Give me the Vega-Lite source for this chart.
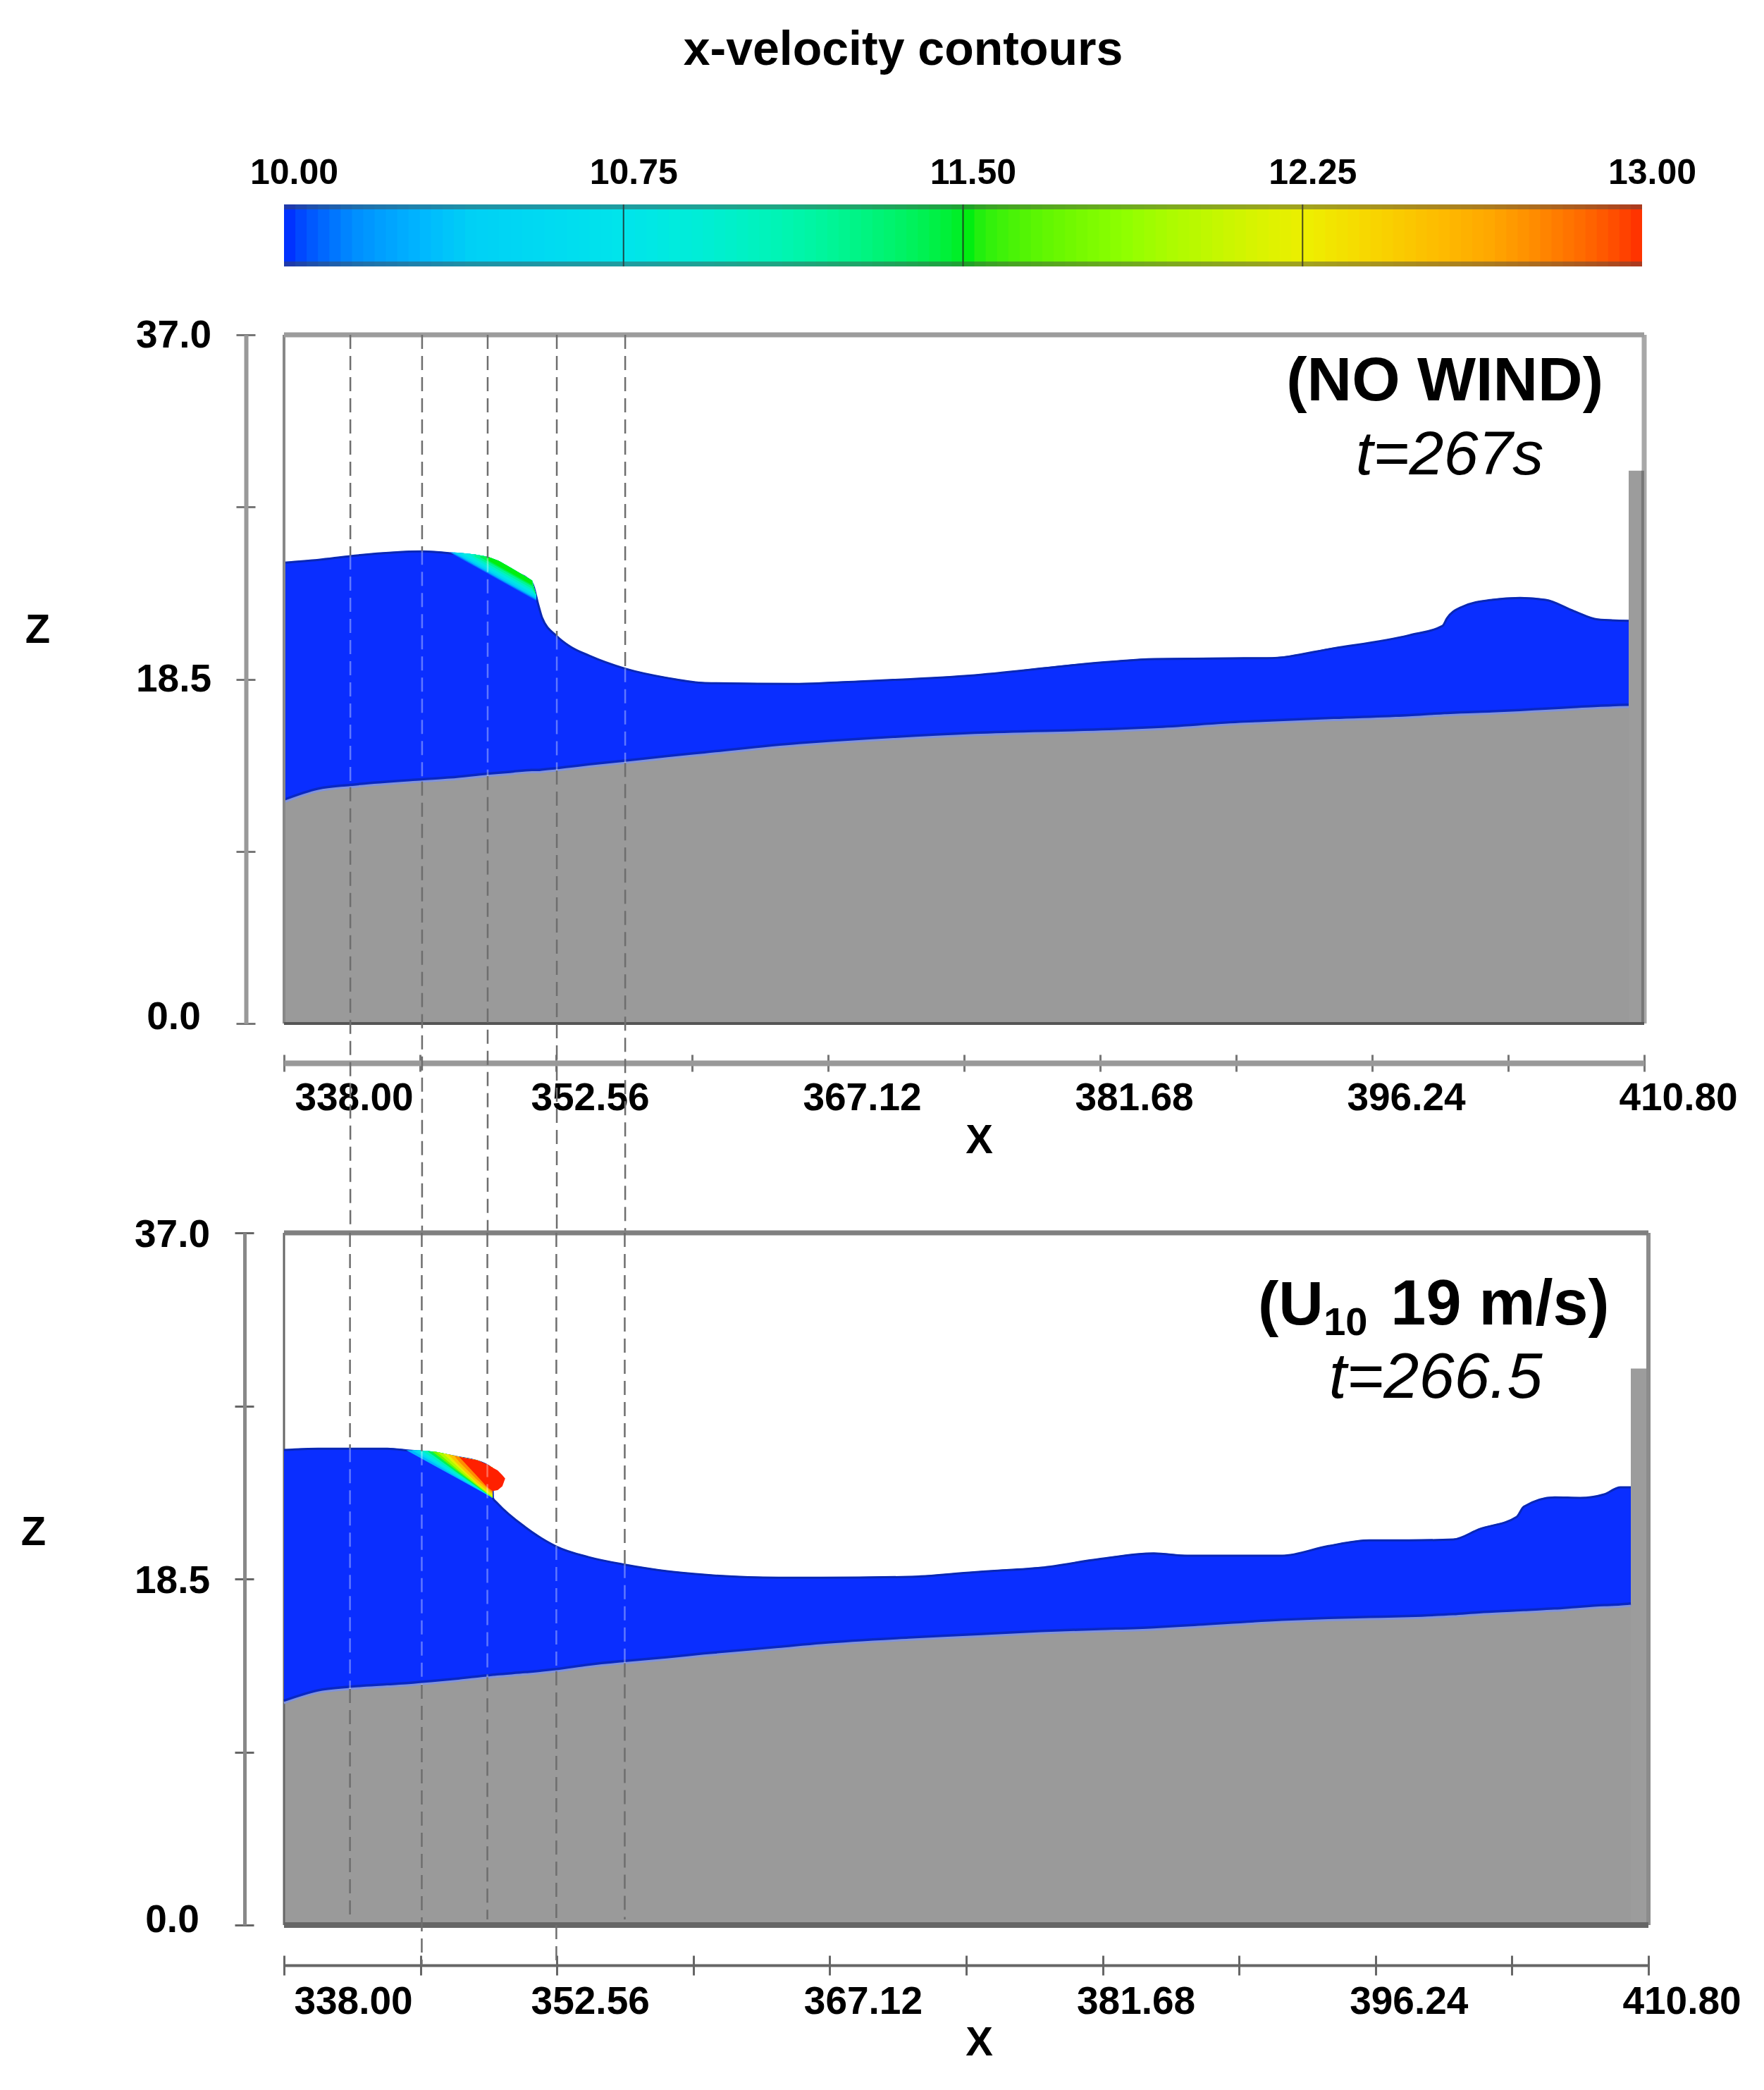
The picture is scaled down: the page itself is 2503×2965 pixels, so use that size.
{
  "$schema": "https://vega.github.io/schema/vega-lite/v6.json",
  "padding": {"left": 29, "top": 38, "right": 5, "bottom": 5},
  "background": "white",
  "config": {"font": "Liberation Sans", "view": {"stroke": null}},
  "datasets": {
    "bar": [
      {"v":10,"v2":10.03},{"v":10.025,"v2":10.055},{"v":10.05,"v2":10.08},{"v":10.075,"v2":10.105},{"v":10.1,"v2":10.13},{"v":10.125,"v2":10.155},{"v":10.15,"v2":10.18},{"v":10.175,"v2":10.205},{"v":10.2,"v2":10.23},{"v":10.225,"v2":10.255},{"v":10.25,"v2":10.28},{"v":10.275,"v2":10.305},{"v":10.3,"v2":10.33},{"v":10.325,"v2":10.355},{"v":10.35,"v2":10.38},{"v":10.375,"v2":10.405},{"v":10.4,"v2":10.43},{"v":10.425,"v2":10.455},{"v":10.45,"v2":10.48},{"v":10.475,"v2":10.505},
      {"v":10.5,"v2":10.53},{"v":10.525,"v2":10.555},{"v":10.55,"v2":10.58},{"v":10.575,"v2":10.605},{"v":10.6,"v2":10.63},{"v":10.625,"v2":10.655},{"v":10.65,"v2":10.68},{"v":10.675,"v2":10.705},{"v":10.7,"v2":10.73},{"v":10.725,"v2":10.755},{"v":10.75,"v2":10.78},{"v":10.775,"v2":10.805},{"v":10.8,"v2":10.83},{"v":10.825,"v2":10.855},{"v":10.85,"v2":10.88},{"v":10.875,"v2":10.905},{"v":10.9,"v2":10.93},{"v":10.925,"v2":10.955},{"v":10.95,"v2":10.98},{"v":10.975,"v2":11.005},
      {"v":11,"v2":11.03},{"v":11.025,"v2":11.055},{"v":11.05,"v2":11.08},{"v":11.075,"v2":11.105},{"v":11.1,"v2":11.13},{"v":11.125,"v2":11.155},{"v":11.15,"v2":11.18},{"v":11.175,"v2":11.205},{"v":11.2,"v2":11.23},{"v":11.225,"v2":11.255},{"v":11.25,"v2":11.28},{"v":11.275,"v2":11.305},{"v":11.3,"v2":11.33},{"v":11.325,"v2":11.355},{"v":11.35,"v2":11.38},{"v":11.375,"v2":11.405},{"v":11.4,"v2":11.43},{"v":11.425,"v2":11.455},{"v":11.45,"v2":11.48},{"v":11.475,"v2":11.505},
      {"v":11.5,"v2":11.53},{"v":11.525,"v2":11.555},{"v":11.55,"v2":11.58},{"v":11.575,"v2":11.605},{"v":11.6,"v2":11.63},{"v":11.625,"v2":11.655},{"v":11.65,"v2":11.68},{"v":11.675,"v2":11.705},{"v":11.7,"v2":11.73},{"v":11.725,"v2":11.755},{"v":11.75,"v2":11.78},{"v":11.775,"v2":11.805},{"v":11.8,"v2":11.83},{"v":11.825,"v2":11.855},{"v":11.85,"v2":11.88},{"v":11.875,"v2":11.905},{"v":11.9,"v2":11.93},{"v":11.925,"v2":11.955},{"v":11.95,"v2":11.98},{"v":11.975,"v2":12.005},
      {"v":12,"v2":12.03},{"v":12.025,"v2":12.055},{"v":12.05,"v2":12.08},{"v":12.075,"v2":12.105},{"v":12.1,"v2":12.13},{"v":12.125,"v2":12.155},{"v":12.15,"v2":12.18},{"v":12.175,"v2":12.205},{"v":12.2,"v2":12.23},{"v":12.225,"v2":12.255},{"v":12.25,"v2":12.28},{"v":12.275,"v2":12.305},{"v":12.3,"v2":12.33},{"v":12.325,"v2":12.355},{"v":12.35,"v2":12.38},{"v":12.375,"v2":12.405},{"v":12.4,"v2":12.43},{"v":12.425,"v2":12.455},{"v":12.45,"v2":12.48},{"v":12.475,"v2":12.505},
      {"v":12.5,"v2":12.53},{"v":12.525,"v2":12.555},{"v":12.55,"v2":12.58},{"v":12.575,"v2":12.605},{"v":12.6,"v2":12.63},{"v":12.625,"v2":12.655},{"v":12.65,"v2":12.68},{"v":12.675,"v2":12.705},{"v":12.7,"v2":12.73},{"v":12.725,"v2":12.755},{"v":12.75,"v2":12.78},{"v":12.775,"v2":12.805},{"v":12.8,"v2":12.83},{"v":12.825,"v2":12.855},{"v":12.85,"v2":12.88},{"v":12.875,"v2":12.905},{"v":12.9,"v2":12.93},{"v":12.925,"v2":12.955},{"v":12.95,"v2":12.98},{"v":12.975,"v2":13}
    ],
    "topProfile": [
      {"x":338,"g":11.9,"s":24.8},{"x":339.85,"g":12.5,"s":24.95},{"x":341.55,"g":12.7,"s":25.15},{"x":345.39,"g":13,"s":25.4},{"x":346.9,"g":13.1,"s":25.3},{"x":348.9,"g":13.3,"s":25},{"x":350.11,"g":13.4,"s":24.4},{"x":351.28,"g":13.5,"s":23.7},{"x":351.62,"g":13.5,"s":22.5},{"x":351.81,"g":13.52,"s":21.85},{"x":352.6,"g":13.6,"s":20.85},{"x":353.3,"g":13.68,"s":20.3},{"x":354.33,"g":13.8,"s":19.8},{"x":356.26,"g":14,"s":19.1},{"x":358.52,"g":14.25,"s":18.6},{"x":360.52,"g":14.45,"s":18.33},{"x":365.57,"g":14.95,"s":18.28},{"x":367.73,"g":15.1,"s":18.37},{"x":374.97,"g":15.5,"s":18.75},{"x":382.17,"g":15.7,"s":19.47},{"x":384.59,"g":15.8,"s":19.62},{"x":389.38,"g":16.1,"s":19.66},{"x":390.6,"g":16.15,"s":19.66},{"x":394.2,"g":16.3,"s":20.2},{"x":398.24,"g":16.45,"s":20.9},{"x":400.01,"g":16.55,"s":21.4},{"x":400.24,"g":16.56,"s":21.8},{"x":401,"g":16.6,"s":22.4},{"x":402.65,"g":16.65,"s":22.8},{"x":404.16,"g":16.72,"s":22.9},{"x":405.52,"g":16.8,"s":22.8},{"x":407.03,"g":16.88,"s":22.2},{"x":408.31,"g":16.95,"s":21.75},{"x":409.97,"g":17,"s":21.67}
    ],
    "botProfile": [
      {"x":338,"g":11.87,"s":25.43},{"x":339.82,"g":12.43,"s":25.5},{"x":341.52,"g":12.62,"s":25.5},{"x":343.51,"g":12.75,"s":25.5},{"x":344.67,"g":12.82,"s":25.4},{"x":345.86,"g":12.92,"s":25.3},{"x":347.19,"g":13.05,"s":25.06},{"x":348.55,"g":13.2,"s":24.75},{"x":349.1,"g":13.25,"s":24.4},{"x":349.15,"g":13.26,"s":22.85},{"x":349.37,"g":13.28,"s":22.6},{"x":350.88,"g":13.4,"s":21.3},{"x":352.53,"g":13.56,"s":20.27},{"x":354.26,"g":13.8,"s":19.7},{"x":356.18,"g":14,"s":19.3},{"x":358.43,"g":14.2,"s":18.95},{"x":360.42,"g":14.4,"s":18.76},{"x":364.37,"g":14.75,"s":18.6},{"x":366.67,"g":14.96,"s":18.6},{"x":371.33,"g":15.25,"s":18.65},{"x":374.82,"g":15.42,"s":18.9},{"x":375.76,"g":15.47,"s":18.96},{"x":378.4,"g":15.6,"s":19.14},{"x":381.51,"g":15.7,"s":19.6},{"x":384.41,"g":15.8,"s":19.9},{"x":386.21,"g":15.9,"s":19.78},{"x":391.25,"g":16.2,"s":19.78},{"x":393.73,"g":16.3,"s":20.3},{"x":395.91,"g":16.35,"s":20.6},{"x":398.02,"g":16.4,"s":20.6},{"x":400.39,"g":16.5,"s":20.65},{"x":401.78,"g":16.6,"s":21.2},{"x":403.77,"g":16.7,"s":21.85},{"x":404.15,"g":16.72,"s":22.4},{"x":405.8,"g":16.8,"s":22.9},{"x":407.16,"g":16.9,"s":22.87},{"x":408.44,"g":16.98,"s":23.06},{"x":409.3,"g":17.02,"s":23.44},{"x":409.86,"g":17.07,"s":23.44}
    ],
    "topPatch": [
      {"v":10.1,"x":346.9,"lo":25.3,"hi":25.32},{"v":10.1,"x":347.5,"lo":24.96,"hi":25.28},{"v":10.1,"x":348.2,"lo":24.57,"hi":25.2},{"v":10.1,"x":348.9,"lo":24.18,"hi":25.08},{"v":10.1,"x":349.5,"lo":23.84,"hi":24.85},{"v":10.1,"x":350.11,"lo":23.5,"hi":24.5},{"v":10.1,"x":350.7,"lo":23.17,"hi":24.15},{"v":10.1,"x":351.28,"lo":22.85,"hi":23.8},{"v":10.1,"x":351.5,"lo":22.72,"hi":23},
      {"v":10.3,"x":347,"lo":25.28,"hi":25.32},{"v":10.3,"x":347.5,"lo":25.02,"hi":25.28},{"v":10.3,"x":348.2,"lo":24.63,"hi":25.2},{"v":10.3,"x":348.9,"lo":24.24,"hi":25.08},{"v":10.3,"x":349.5,"lo":23.9,"hi":24.85},{"v":10.3,"x":350.11,"lo":23.56,"hi":24.5},{"v":10.3,"x":350.7,"lo":23.23,"hi":24.15},{"v":10.3,"x":351.28,"lo":22.91,"hi":23.8},{"v":10.3,"x":351.5,"lo":22.78,"hi":23},
      {"v":10.55,"x":347.1,"lo":25.28,"hi":25.32},{"v":10.55,"x":347.5,"lo":25.1,"hi":25.28},{"v":10.55,"x":348.2,"lo":24.71,"hi":25.2},{"v":10.55,"x":348.9,"lo":24.32,"hi":25.08},{"v":10.55,"x":349.5,"lo":23.98,"hi":24.85},{"v":10.55,"x":350.11,"lo":23.64,"hi":24.5},{"v":10.55,"x":350.7,"lo":23.31,"hi":24.15},{"v":10.55,"x":351.28,"lo":22.99,"hi":23.8},{"v":10.55,"x":351.5,"lo":22.86,"hi":23},
      {"v":10.8,"x":347.5,"lo":25.22,"hi":25.28},{"v":10.8,"x":348.2,"lo":24.83,"hi":25.2},{"v":10.8,"x":348.9,"lo":24.44,"hi":25.08},{"v":10.8,"x":349.5,"lo":24.1,"hi":24.85},{"v":10.8,"x":350.11,"lo":23.76,"hi":24.5},{"v":10.8,"x":350.7,"lo":23.43,"hi":24.15},{"v":10.8,"x":351.28,"lo":23.11,"hi":23.8},{"v":10.8,"x":351.5,"lo":22.98,"hi":23},
      {"v":11,"x":347.9,"lo":25.22,"hi":25.24},{"v":11,"x":348.2,"lo":24.97,"hi":25.2},{"v":11,"x":348.9,"lo":24.58,"hi":25.08},{"v":11,"x":349.5,"lo":24.24,"hi":24.85},{"v":11,"x":350.11,"lo":23.9,"hi":24.5},{"v":11,"x":350.7,"lo":23.57,"hi":24.15},{"v":11,"x":351.28,"lo":23.25,"hi":23.8},{"v":11,"x":351.5,"lo":23,"hi":23},
      {"v":11.2,"x":348.2,"lo":25.09,"hi":25.2},{"v":11.2,"x":348.9,"lo":24.7,"hi":25.08},{"v":11.2,"x":349.5,"lo":24.36,"hi":24.85},{"v":11.2,"x":350.11,"lo":24.02,"hi":24.5},{"v":11.2,"x":350.7,"lo":23.69,"hi":24.15},{"v":11.2,"x":351.28,"lo":23.37,"hi":23.8},{"v":11.2,"x":351.5,"lo":23,"hi":23},
      {"v":11.4,"x":348.5,"lo":25.05,"hi":25.14},{"v":11.4,"x":348.9,"lo":24.82,"hi":25.08},{"v":11.4,"x":349.5,"lo":24.48,"hi":24.85},{"v":11.4,"x":350.11,"lo":24.14,"hi":24.5},{"v":11.4,"x":350.7,"lo":23.81,"hi":24.15},{"v":11.4,"x":351.28,"lo":23.49,"hi":23.8},{"v":11.4,"x":351.5,"lo":23,"hi":23},
      {"v":11.5,"x":348.9,"lo":24.9,"hi":25.08},{"v":11.5,"x":349.5,"lo":24.56,"hi":24.85},{"v":11.5,"x":350.11,"lo":24.22,"hi":24.5},{"v":11.5,"x":350.7,"lo":23.89,"hi":24.15},{"v":11.5,"x":351.28,"lo":23.57,"hi":23.8}
    ],
    "botPatch": [
      {"v":10.3,"x":344.52,"lo":25.39,"hi":25.39},{"v":10.3,"x":345.27,"lo":24.97,"hi":25.38},{"v":10.3,"x":346.19,"lo":24.46,"hi":25.28},{"v":10.3,"x":347.37,"lo":23.81,"hi":25.02},{"v":10.3,"x":348.3,"lo":23.29,"hi":24.85},{"v":10.3,"x":349.13,"lo":22.83,"hi":24.45},
      {"v":10.55,"x":344.85,"lo":25.37,"hi":25.39},{"v":10.55,"x":345.27,"lo":25.12,"hi":25.38},{"v":10.55,"x":346.19,"lo":24.58,"hi":25.28},{"v":10.55,"x":347.37,"lo":23.87,"hi":25.02},{"v":10.55,"x":348.3,"lo":23.32,"hi":24.85},{"v":10.55,"x":349.13,"lo":22.83,"hi":24.45},
      {"v":10.8,"x":345.1,"lo":25.35,"hi":25.38},{"v":10.8,"x":345.27,"lo":25.24,"hi":25.38},{"v":10.8,"x":346.19,"lo":24.67,"hi":25.28},{"v":10.8,"x":347.37,"lo":23.93,"hi":25.02},{"v":10.8,"x":348.3,"lo":23.35,"hi":24.85},{"v":10.8,"x":349.13,"lo":22.83,"hi":24.45},
      {"v":11.05,"x":345.4,"lo":25.33,"hi":25.36},{"v":11.05,"x":346.19,"lo":24.8,"hi":25.28},{"v":11.05,"x":347.37,"lo":24.01,"hi":25.02},{"v":11.05,"x":348.3,"lo":23.39,"hi":24.85},{"v":11.05,"x":349.13,"lo":22.83,"hi":24.45},
      {"v":11.4,"x":345.69,"lo":25.3,"hi":25.34},{"v":11.4,"x":346.19,"lo":24.94,"hi":25.28},{"v":11.4,"x":347.37,"lo":24.09,"hi":25.02},{"v":11.4,"x":348.3,"lo":23.43,"hi":24.85},{"v":11.4,"x":349.13,"lo":22.83,"hi":24.45},
      {"v":11.7,"x":345.95,"lo":25.27,"hi":25.32},{"v":11.7,"x":346.19,"lo":25.09,"hi":25.28},{"v":11.7,"x":347.37,"lo":24.18,"hi":25.02},{"v":11.7,"x":348.3,"lo":23.47,"hi":24.85},{"v":11.7,"x":349.13,"lo":22.83,"hi":24.45},
      {"v":11.95,"x":346.19,"lo":25.26,"hi":25.28},{"v":11.95,"x":347.37,"lo":24.26,"hi":25.02},{"v":11.95,"x":348.3,"lo":23.5,"hi":24.85},{"v":11.95,"x":349.13,"lo":22.83,"hi":24.45},
      {"v":12.2,"x":346.5,"lo":25.2,"hi":25.22},{"v":12.2,"x":347.37,"lo":24.4,"hi":25.02},{"v":12.2,"x":348.3,"lo":23.57,"hi":24.85},{"v":12.2,"x":349.13,"lo":22.9,"hi":24.45},
      {"v":12.5,"x":346.78,"lo":25.14,"hi":25.16},{"v":12.5,"x":347.37,"lo":24.53,"hi":25.02},{"v":12.5,"x":348.3,"lo":23.63,"hi":24.85},{"v":12.5,"x":349.13,"lo":23,"hi":24.45},
      {"v":12.75,"x":347.1,"lo":25.07,"hi":25.09},{"v":12.75,"x":347.37,"lo":24.74,"hi":25.02},{"v":12.75,"x":348.3,"lo":23.8,"hi":24.85},{"v":12.75,"x":349.13,"lo":23.1,"hi":24.45},
      {"v":13,"x":347.37,"lo":25,"hi":25.02},{"v":13,"x":348.3,"lo":24,"hi":24.85},{"v":13,"x":348.85,"lo":23.4,"hi":24.62},{"v":13,"x":349.13,"lo":23.2,"hi":24.45},{"v":13,"x":349.4,"lo":23.25,"hi":24.3},{"v":13,"x":349.65,"lo":23.45,"hi":24.05},{"v":13,"x":349.8,"lo":23.87,"hi":23.87}
    ],
    "topDash": [
      {"x":341.55,"z1":37,"z2":25.15,"zone":"dry"},{"x":341.55,"z1":25.15,"z2":12.7,"zone":"water"},{"x":341.55,"z1":12.7,"z2":-11.2,"zone":"dry"},
      {"x":345.39,"z1":37,"z2":25.4,"zone":"dry"},{"x":345.39,"z1":25.4,"z2":13,"zone":"water"},{"x":345.39,"z1":13,"z2":-11.2,"zone":"dry"},
      {"x":348.9,"z1":37,"z2":25,"zone":"dry"},{"x":348.9,"z1":25,"z2":13.3,"zone":"water"},{"x":348.9,"z1":13.3,"z2":-11.2,"zone":"dry"},
      {"x":352.6,"z1":37,"z2":20.85,"zone":"dry"},{"x":352.6,"z1":20.85,"z2":13.6,"zone":"water"},{"x":352.6,"z1":13.6,"z2":-11.2,"zone":"dry"},
      {"x":356.26,"z1":37,"z2":19.1,"zone":"dry"},{"x":356.26,"z1":19.1,"z2":14,"zone":"water"},{"x":356.26,"z1":14,"z2":-11.2,"zone":"dry"}
    ],
    "botDash": [
      {"x":341.52,"z1":37,"z2":25.5,"zone":"dry"},{"x":341.52,"z1":25.5,"z2":12.62,"zone":"water"},{"x":341.52,"z1":12.62,"z2":0.3,"zone":"dry"},
      {"x":345.35,"z1":37,"z2":25.33,"zone":"dry"},{"x":345.35,"z1":25.33,"z2":12.85,"zone":"water"},{"x":345.35,"z1":12.85,"z2":-2.15,"zone":"dry"},
      {"x":348.85,"z1":37,"z2":24.7,"zone":"dry"},{"x":348.85,"z1":24.7,"z2":13.25,"zone":"water"},{"x":348.85,"z1":13.25,"z2":0.3,"zone":"dry"},
      {"x":352.53,"z1":37,"z2":20.27,"zone":"dry"},{"x":352.53,"z1":20.27,"z2":13.56,"zone":"water"},{"x":352.53,"z1":13.56,"z2":-2.15,"zone":"dry"},
      {"x":356.18,"z1":37,"z2":19.3,"zone":"dry"},{"x":356.18,"z1":19.3,"z2":14,"zone":"water"},{"x":356.18,"z1":14,"z2":0.3,"zone":"dry"}
    ]
  },
  "bounds": "flush",
  "spacing": 97,
  "vconcat": [
    {
      "width": 1927,
      "height": 88,
      "title": {"text": "x-velocity contours", "fontSize": 68, "fontWeight": "bold", "anchor": "middle", "dx": -85, "offset": 114, "color": "black"},
      "layer": [
        {
          "data": {"name": "bar"},
          "mark": "rect",
          "encoding": {
            "x": {"field": "v", "type": "quantitative", "scale": {"domain": [10, 13], "nice": false, "zero": false},
              "axis": {"orient": "top", "title": null, "values": [10, 10.75, 11.5, 12.25, 13], "format": ".2f", "domain": false, "ticks": false, "grid": false, "labelFontSize": 50, "labelFontWeight": "bold", "labelColor": "black", "labelBaseline": "middle", "labelPadding": 45, "labelOffset": 14, "labelFlush": false, "labelOverlap": false, "labelBound": false}},
            "x2": {"field": "v2"},
            "color": {"field": "v", "type": "quantitative", "legend": null,
              "scale": {"domain": [10, 10.15, 10.4, 10.75, 11.1, 11.5, 11.85, 12.25, 12.65, 13], "range": ["#0032ff", "#0090ff", "#00d0f5", "#00e5ea", "#00f5b0", "#00ee10", "#90ff00", "#eeee00", "#ffa800", "#ff2000"]}}
          }
        },
        {
          "data": {"values": [{"v": 10.75}, {"v": 11.5}, {"v": 12.25}]},
          "mark": {"type": "rule", "color": "#222", "strokeWidth": 2, "opacity": 0.8},
          "encoding": {"x": {"field": "v", "type": "quantitative", "scale": {"domain": [10, 13], "nice": false, "zero": false}}}
        },
        {
          "data": {"values": [{"b": 0.04}, {"b": 0.96}]},
          "mark": {"type": "rule", "color": "#444", "strokeWidth": 7, "opacity": 0.45},
          "encoding": {"y": {"field": "b", "type": "quantitative", "scale": {"domain": [0, 1]}, "axis": null}}
        }
      ]
    },
    {
      "width": 1930,
      "height": 977,
      "encoding": {"x": {"field": "x", "type": "quantitative", "scale": {"domain": [338, 410.8], "nice": false, "zero": false}}},
      "layer": [
        {
          "data": {"name": "topProfile"},
          "mark": {"type": "area", "color": "#9a9a9a", "interpolate": "monotone"},
          "encoding": {
            "x": {"field": "x", "type": "quantitative", "scale": {"domain": [338, 410.8], "nice": false, "zero": false},
              "axis": {"title": "X", "titleFontSize": 58, "titleFontWeight": "bold", "titleColor": "black", "titleX": 986, "titleY": 110, "titleAlign": "center", "titleBaseline": "middle",
                "offset": 56, "values": [338, 345.28, 352.56, 359.84, 367.12, 374.4, 381.68, 388.96, 396.24, 403.52, 410.8],
                "labelExpr": "round((datum.value-338)/7.28)%2==0 ? format(datum.value,'.2f') : ''",
                "labelFontSize": 55, "labelFontWeight": "bold", "labelColor": "black", "labelBaseline": "middle", "labelPadding": 37, "labelFlush": false, "labelOverlap": false, "labelBound": false,
                "labelOffset": {"condition": {"test": "datum.value==338", "value": 99}, "value": 48},
                "domainColor": "#999", "domainWidth": 8, "tickColor": "#777", "tickWidth": 3, "tickSize": 12, "grid": false,
                "encoding": {"ticks": {"y": {"value": -12}}}}},
            "y": {"field": "g", "type": "quantitative", "scale": {"domain": [0, 37], "nice": false, "zero": false},
              "axis": {"title": "Z", "titleFontSize": 58, "titleFontWeight": "bold", "titleColor": "black", "titleAngle": 0, "titleX": -296, "titleY": 419, "titleAlign": "center", "titleBaseline": "middle",
                "offset": 54, "values": [0, 9.25, 18.5, 27.75, 37],
                "labelExpr": "datum.value%18.5==0 ? format(datum.value,'.1f') : ''",
                "labelFontSize": 55, "labelFontWeight": "bold", "labelColor": "black", "labelAlign": "center", "labelBaseline": "middle", "labelPadding": 89, "labelOverlap": false, "labelBound": false, "labelFlush": false,
                "labelOffset": {"condition": {"test": "datum.value==0", "value": -10}, "value": 0},
                "domainColor": "#999", "domainWidth": 6, "tickColor": "#777", "tickWidth": 3, "tickSize": 14, "grid": false,
                "encoding": {"ticks": {"x": {"value": 13}}}}},
            "y2": {"datum": 0}
          }
        },
        {
          "data": {"values": [{"x": 409.97, "x2": 410.8, "z": 29.7}]},
          "mark": {"type": "rect", "color": "#9c9c9c"},
          "encoding": {"x2": {"field": "x2"}, "y": {"field": "z", "type": "quantitative", "scale": {"domain": [0, 37], "nice": false, "zero": false}}, "y2": {"datum": 0}}
        },
        {
          "data": {"name": "topProfile"},
          "mark": {"type": "area", "color": "#0a2eff", "interpolate": "monotone"},
          "encoding": {"y": {"field": "s", "type": "quantitative", "scale": {"domain": [0, 37], "nice": false, "zero": false}}, "y2": {"field": "g"}}
        },
        {
          "data": {"name": "topProfile"},
          "mark": {"type": "line", "color": "#0a28b4", "strokeWidth": 3, "interpolate": "monotone", "yOffset": 1},
          "encoding": {"y": {"field": "s", "type": "quantitative", "scale": {"domain": [0, 37], "nice": false, "zero": false}}}
        },
        {
          "data": {"name": "topProfile"},
          "mark": {"type": "line", "color": "#0a28c0", "strokeWidth": 4, "interpolate": "monotone", "yOffset": -3},
          "encoding": {"y": {"field": "g", "type": "quantitative", "scale": {"domain": [0, 37], "nice": false, "zero": false}}}
        },
        {
          "data": {"name": "topProfile"},
          "mark": {"type": "line", "color": "#8093de", "strokeWidth": 3, "interpolate": "monotone"},
          "encoding": {"y": {"field": "g", "type": "quantitative", "scale": {"domain": [0, 37], "nice": false, "zero": false}}}
        },
        {
          "data": {"name": "topPatch"},
          "mark": {"type": "area", "interpolate": "linear"},
          "encoding": {
            "y": {"field": "lo", "type": "quantitative", "scale": {"domain": [0, 37], "nice": false, "zero": false}},
            "y2": {"field": "hi"},
            "detail": {"field": "v"},
            "color": {"field": "v", "type": "quantitative", "legend": null,
              "scale": {"domain": [10, 10.15, 10.4, 10.75, 11.1, 11.5, 11.85, 12.25, 12.65, 13], "range": ["#0032ff", "#0090ff", "#00d0f5", "#00e5ea", "#00f5b0", "#00e040", "#90ff00", "#eeee00", "#ffa800", "#ff2000"]}}
          }
        },
        {
          "data": {"values": [{"x": 410.8}]},
          "mark": {"type": "rule", "color": "#a8a8a8", "strokeWidth": 7}
        },
        {
          "data": {"values": [{"x": 410.72, "z": 29.7}]},
          "mark": {"type": "rule", "color": "#777", "strokeWidth": 4},
          "encoding": {"y": {"field": "z", "type": "quantitative", "scale": {"domain": [0, 37], "nice": false, "zero": false}}, "y2": {"datum": 0}}
        },
        {
          "data": {"values": [{"x": 338}]},
          "mark": {"type": "rule", "color": "#888", "strokeWidth": 4}
        },
        {
          "data": {"values": [{"x": 338, "x2": 410.8, "z": 37}]},
          "mark": {"type": "rule", "color": "#9c9c9c", "strokeWidth": 7},
          "encoding": {"x2": {"field": "x2"}, "y": {"field": "z", "type": "quantitative", "scale": {"domain": [0, 37], "nice": false, "zero": false}}}
        },
        {
          "data": {"values": [{"x": 338, "x2": 410.8, "z": 0}]},
          "mark": {"type": "rule", "color": "#555", "strokeWidth": 4},
          "encoding": {"x2": {"field": "x2"}, "y": {"field": "z", "type": "quantitative", "scale": {"domain": [0, 37], "nice": false, "zero": false}}}
        },
        {
          "data": {"name": "topDash"},
          "transform": [{"filter": "datum.zone=='dry'"}],
          "mark": {"type": "rule", "color": "#6e6e6e", "strokeWidth": 2.5, "strokeDash": [20, 10]},
          "encoding": {"y": {"field": "z1", "type": "quantitative", "scale": {"domain": [0, 37], "nice": false, "zero": false}}, "y2": {"field": "z2"}}
        },
        {
          "data": {"name": "topDash"},
          "transform": [{"filter": "datum.zone=='water'"}],
          "mark": {"type": "rule", "color": "#ffffff", "opacity": 0.35, "strokeWidth": 2.5, "strokeDash": [20, 10]},
          "encoding": {"y": {"field": "z1", "type": "quantitative", "scale": {"domain": [0, 37], "nice": false, "zero": false}}, "y2": {"field": "z2"}}
        },
        {
          "data": {"values": [{"x": 400.13, "z": 33.48, "t": "(NO WIND)"}]},
          "mark": {"type": "text", "fontSize": 88, "fontWeight": "bold", "align": "center", "baseline": "alphabetic", "color": "black"},
          "encoding": {"y": {"field": "z", "type": "quantitative", "scale": {"domain": [0, 37], "nice": false, "zero": false}}, "text": {"field": "t"}}
        },
        {
          "data": {"values": [{"x": 400.39, "z": 29.5, "t": "t=267s"}]},
          "mark": {"type": "text", "fontSize": 88, "fontStyle": "italic", "align": "center", "baseline": "alphabetic", "color": "black"},
          "encoding": {"y": {"field": "z", "type": "quantitative", "scale": {"domain": [0, 37], "nice": false, "zero": false}}, "text": {"field": "t"}}
        }
      ]
    },
    {
      "width": 1930,
      "height": 103,
      "data": {"values": []},
      "mark": "point"
    },
    {
      "width": 1936,
      "height": 982,
      "encoding": {"x": {"field": "x", "type": "quantitative", "scale": {"domain": [338, 410.8], "nice": false, "zero": false}}},
      "layer": [
        {
          "data": {"name": "botProfile"},
          "mark": {"type": "area", "color": "#9a9a9a", "interpolate": "monotone"},
          "encoding": {
            "x": {"field": "x", "type": "quantitative", "scale": {"domain": [338, 410.8], "nice": false, "zero": false},
              "axis": {"title": "X", "titleFontSize": 58, "titleFontWeight": "bold", "titleColor": "black", "titleX": 986, "titleY": 110, "titleAlign": "center", "titleBaseline": "middle",
                "offset": 57, "values": [338, 345.28, 352.56, 359.84, 367.12, 374.4, 381.68, 388.96, 396.24, 403.52, 410.8],
                "labelExpr": "round((datum.value-338)/7.28)%2==0 ? format(datum.value,'.2f') : ''",
                "labelFontSize": 55, "labelFontWeight": "bold", "labelColor": "black", "labelBaseline": "middle", "labelPadding": 37, "labelFlush": false, "labelOverlap": false, "labelBound": false,
                "labelOffset": {"condition": {"test": "datum.value==338", "value": 98}, "value": 47},
                "domainColor": "#666", "domainWidth": 4, "tickColor": "#666", "tickWidth": 3, "tickSize": 14, "grid": false,
                "encoding": {"ticks": {"y": {"value": -14}}}}},
            "y": {"field": "g", "type": "quantitative", "scale": {"domain": [0, 37], "nice": false, "zero": false},
              "axis": {"title": "Z", "titleFontSize": 58, "titleFontWeight": "bold", "titleColor": "black", "titleAngle": 0, "titleX": -300, "titleY": 425, "titleAlign": "center", "titleBaseline": "middle",
                "offset": 56, "values": [0, 9.25, 18.5, 27.75, 37],
                "labelExpr": "datum.value%18.5==0 ? format(datum.value,'.1f') : ''",
                "labelFontSize": 55, "labelFontWeight": "bold", "labelColor": "black", "labelAlign": "center", "labelBaseline": "middle", "labelPadding": 89, "labelOverlap": false, "labelBound": false, "labelFlush": false,
                "labelOffset": {"condition": {"test": "datum.value==0", "value": -8}, "value": 2},
                "domainColor": "#888", "domainWidth": 5, "tickColor": "#666", "tickWidth": 3, "tickSize": 14, "grid": false,
                "encoding": {"ticks": {"x": {"value": 13}}}}},
            "y2": {"datum": 0}
          }
        },
        {
          "data": {"values": [{"x": 409.86, "x2": 410.8, "z": 29.75}]},
          "mark": {"type": "rect", "color": "#9c9c9c"},
          "encoding": {"x2": {"field": "x2"}, "y": {"field": "z", "type": "quantitative", "scale": {"domain": [0, 37], "nice": false, "zero": false}}, "y2": {"datum": 0}}
        },
        {
          "data": {"values": [{"x": 338}]},
          "mark": {"type": "rule", "color": "#666", "strokeWidth": 3}
        },
        {
          "data": {"name": "botProfile"},
          "mark": {"type": "area", "color": "#0a2eff", "interpolate": "monotone"},
          "encoding": {"y": {"field": "s", "type": "quantitative", "scale": {"domain": [0, 37], "nice": false, "zero": false}}, "y2": {"field": "g"}}
        },
        {
          "data": {"name": "botProfile"},
          "mark": {"type": "line", "color": "#0a28b4", "strokeWidth": 3, "interpolate": "monotone", "yOffset": 1},
          "encoding": {"y": {"field": "s", "type": "quantitative", "scale": {"domain": [0, 37], "nice": false, "zero": false}}}
        },
        {
          "data": {"name": "botProfile"},
          "mark": {"type": "line", "color": "#0a28c0", "strokeWidth": 4, "interpolate": "monotone", "yOffset": -3},
          "encoding": {"y": {"field": "g", "type": "quantitative", "scale": {"domain": [0, 37], "nice": false, "zero": false}}}
        },
        {
          "data": {"name": "botProfile"},
          "mark": {"type": "line", "color": "#8093de", "strokeWidth": 3, "interpolate": "monotone"},
          "encoding": {"y": {"field": "g", "type": "quantitative", "scale": {"domain": [0, 37], "nice": false, "zero": false}}}
        },
        {
          "data": {"name": "botPatch"},
          "mark": {"type": "area", "interpolate": "linear"},
          "encoding": {
            "y": {"field": "lo", "type": "quantitative", "scale": {"domain": [0, 37], "nice": false, "zero": false}},
            "y2": {"field": "hi"},
            "detail": {"field": "v"},
            "color": {"field": "v", "type": "quantitative", "legend": null,
              "scale": {"domain": [10, 10.15, 10.4, 10.75, 11.1, 11.5, 11.85, 12.25, 12.65, 13], "range": ["#0032ff", "#0090ff", "#00d0f5", "#00e5ea", "#00f5b0", "#00ee10", "#90ff00", "#eeee00", "#ffa800", "#e81800"]}}
          }
        },
        {
          "data": {"values": [{"x": 410.8}]},
          "mark": {"type": "rule", "color": "#8c8c8c", "strokeWidth": 6}
        },
        {
          "data": {"values": [{"x": 338, "x2": 410.8, "z": 37}]},
          "mark": {"type": "rule", "color": "#808080", "strokeWidth": 7},
          "encoding": {"x2": {"field": "x2"}, "y": {"field": "z", "type": "quantitative", "scale": {"domain": [0, 37], "nice": false, "zero": false}}}
        },
        {
          "data": {"values": [{"x": 338, "x2": 410.8, "z": 0}]},
          "mark": {"type": "rule", "color": "#666", "strokeWidth": 8},
          "encoding": {"x2": {"field": "x2"}, "y": {"field": "z", "type": "quantitative", "scale": {"domain": [0, 37], "nice": false, "zero": false}}}
        },
        {
          "data": {"name": "botDash"},
          "transform": [{"filter": "datum.zone=='dry'"}],
          "mark": {"type": "rule", "color": "#6e6e6e", "strokeWidth": 2.5, "strokeDash": [20, 10]},
          "encoding": {"y": {"field": "z1", "type": "quantitative", "scale": {"domain": [0, 37], "nice": false, "zero": false}}, "y2": {"field": "z2"}}
        },
        {
          "data": {"name": "botDash"},
          "transform": [{"filter": "datum.zone=='water'"}],
          "mark": {"type": "rule", "color": "#ffffff", "opacity": 0.35, "strokeWidth": 2.5, "strokeDash": [20, 10]},
          "encoding": {"y": {"field": "z1", "type": "quantitative", "scale": {"domain": [0, 37], "nice": false, "zero": false}}, "y2": {"field": "z2"}}
        },
        {
          "data": {"values": [{"x": 389.97, "z": 32.1, "t": "(U"}]},
          "mark": {"type": "text", "fontSize": 88, "fontWeight": "bold", "align": "left", "baseline": "alphabetic", "color": "black"},
          "encoding": {"y": {"field": "z", "type": "quantitative", "scale": {"domain": [0, 37], "nice": false, "zero": false}}, "text": {"field": "t"}}
        },
        {
          "data": {"values": [{"x": 397.05, "z": 32.1, "t": "19 m/s)"}]},
          "mark": {"type": "text", "fontSize": 90, "fontWeight": "bold", "align": "left", "baseline": "alphabetic", "color": "black"},
          "encoding": {"y": {"field": "z", "type": "quantitative", "scale": {"domain": [0, 37], "nice": false, "zero": false}}, "text": {"field": "t"}}
        },
        {
          "data": {"values": [{"x": 393.47, "z": 31.54, "t": "10"}]},
          "mark": {"type": "text", "fontSize": 56, "fontWeight": "bold", "align": "left", "baseline": "alphabetic", "color": "black"},
          "encoding": {"y": {"field": "z", "type": "quantitative", "scale": {"domain": [0, 37], "nice": false, "zero": false}}, "text": {"field": "t"}}
        },
        {
          "data": {"values": [{"x": 399.45, "z": 28.18, "t": "t=266.5"}]},
          "mark": {"type": "text", "fontSize": 90, "fontStyle": "italic", "align": "center", "baseline": "alphabetic", "color": "black"},
          "encoding": {"y": {"field": "z", "type": "quantitative", "scale": {"domain": [0, 37], "nice": false, "zero": false}}, "text": {"field": "t"}}
        }
      ]
    }
  ]
}
